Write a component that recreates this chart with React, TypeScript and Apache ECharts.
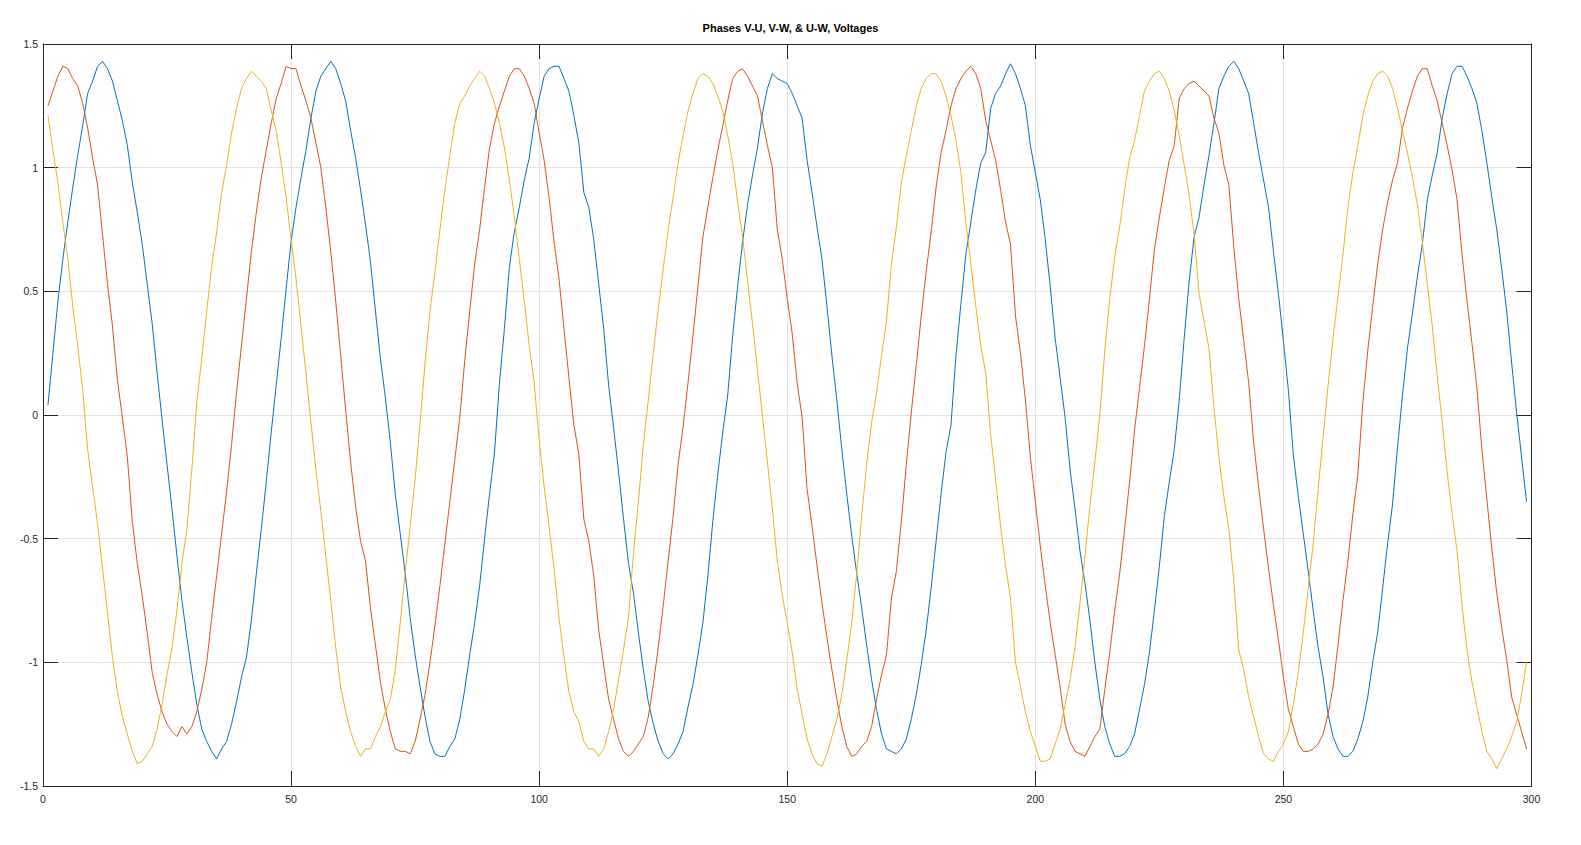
import React, { useEffect, useRef } from "react";
import * as echarts from "echarts";

const titleText = "Phases V-U, V-W, & U-W, Voltages";
const xTicks = [0, 50, 100, 150, 200, 250, 300];
const yTicks = [-1.5, -1, -0.5, 0, 0.5, 1, 1.5];

const blueVU = [
  0.04,0.25,0.46,0.63,0.78,0.92,1.05,1.17,1.30,1.35,
  1.41,1.43,1.40,1.35,1.27,1.19,1.09,0.94,0.82,0.69,
  0.53,0.37,0.17,-0.02,-0.20,-0.38,-0.57,-0.75,-0.90,-1.04,
  -1.17,-1.27,-1.32,-1.36,-1.39,-1.35,-1.32,-1.25,-1.16,-1.06,
  -0.98,-0.83,-0.64,-0.46,-0.27,-0.07,0.12,0.31,0.51,0.70,
  0.84,0.96,1.07,1.20,1.31,1.37,1.40,1.43,1.40,1.34,
  1.27,1.15,1.04,0.91,0.77,0.62,0.42,0.23,0.07,-0.11,
  -0.32,-0.48,-0.64,-0.82,-0.97,-1.10,-1.22,-1.32,-1.37,-1.38,
  -1.38,-1.34,-1.31,-1.23,-1.11,-0.97,-0.84,-0.69,-0.50,-0.32,
  -0.15,0.13,0.35,0.60,0.74,0.84,0.95,1.04,1.18,1.28,
  1.37,1.40,1.41,1.41,1.36,1.31,1.21,1.10,0.90,0.84,
  0.71,0.53,0.35,0.12,-0.05,-0.23,-0.42,-0.60,-0.72,-0.88,
  -1.03,-1.16,-1.25,-1.32,-1.37,-1.39,-1.37,-1.33,-1.28,-1.18,
  -1.09,-0.97,-0.84,-0.65,-0.43,-0.24,-0.07,0.08,0.32,0.52,
  0.70,0.85,0.97,1.08,1.22,1.32,1.38,1.36,1.35,1.34,
  1.30,1.25,1.20,1.03,0.90,0.76,0.63,0.44,0.24,0.06,
  -0.14,-0.32,-0.49,-0.64,-0.78,-0.93,-1.07,-1.19,-1.29,-1.35,
  -1.36,-1.37,-1.35,-1.31,-1.23,-1.13,-1.01,-0.87,-0.70,-0.51,
  -0.32,-0.15,-0.04,0.24,0.45,0.65,0.78,0.91,1.02,1.06,
  1.24,1.30,1.33,1.38,1.42,1.38,1.32,1.25,1.09,0.98,
  0.87,0.71,0.52,0.31,0.15,-0.01,-0.22,-0.38,-0.55,-0.68,
  -0.83,-1.00,-1.15,-1.26,-1.33,-1.38,-1.38,-1.37,-1.34,-1.29,
  -1.19,-1.09,-0.96,-0.79,-0.61,-0.41,-0.27,-0.14,0.06,0.31,
  0.54,0.72,0.80,0.93,1.05,1.18,1.32,1.37,1.41,1.43,
  1.40,1.35,1.30,1.18,1.06,0.95,0.84,0.66,0.49,0.30,
  0.10,-0.16,-0.33,-0.48,-0.63,-0.79,-0.94,-1.06,-1.21,-1.30,
  -1.35,-1.38,-1.38,-1.36,-1.31,-1.24,-1.14,-1.00,-0.88,-0.70,
  -0.52,-0.36,-0.13,0.08,0.27,0.41,0.56,0.69,0.87,0.97,
  1.06,1.20,1.30,1.38,1.41,1.41,1.37,1.32,1.26,1.15,
  1.02,0.88,0.75,0.59,0.42,0.21,0.01,-0.17,-0.35,
];

const redVW = [
  1.25,1.31,1.37,1.41,1.40,1.36,1.33,1.26,1.16,1.04,
  0.93,0.73,0.53,0.36,0.14,-0.01,-0.17,-0.43,-0.60,-0.73,
  -0.88,-1.04,-1.13,-1.20,-1.25,-1.28,-1.30,-1.26,-1.29,-1.26,
  -1.20,-1.11,-1.00,-0.82,-0.65,-0.48,-0.31,-0.12,0.09,0.28,
  0.47,0.66,0.82,0.96,1.07,1.18,1.28,1.34,1.41,1.40,
  1.40,1.33,1.27,1.20,1.10,1.00,0.84,0.66,0.46,0.24,
  0.02,-0.19,-0.37,-0.51,-0.59,-0.78,-0.93,-1.08,-1.19,-1.28,
  -1.35,-1.36,-1.36,-1.37,-1.32,-1.23,-1.13,-1.00,-0.85,-0.69,
  -0.52,-0.35,-0.18,-0.01,0.22,0.42,0.61,0.75,0.92,1.08,
  1.18,1.25,1.31,1.37,1.40,1.40,1.37,1.32,1.26,1.14,
  1.03,0.88,0.70,0.55,0.35,0.15,-0.04,-0.16,-0.42,-0.51,
  -0.65,-0.87,-1.01,-1.15,-1.23,-1.31,-1.36,-1.38,-1.36,-1.33,
  -1.30,-1.22,-1.09,-0.94,-0.77,-0.59,-0.41,-0.20,-0.05,0.13,
  0.32,0.52,0.72,0.84,0.96,1.07,1.17,1.27,1.36,1.39,
  1.40,1.37,1.33,1.29,1.19,1.09,1.00,0.75,0.63,0.47,
  0.33,0.13,-0.01,-0.30,-0.45,-0.61,-0.76,-0.90,-1.03,-1.15,
  -1.26,-1.34,-1.38,-1.37,-1.34,-1.32,-1.26,-1.15,-1.05,-0.97,
  -0.74,-0.63,-0.43,-0.20,0.01,0.20,0.40,0.58,0.74,0.92,
  1.06,1.15,1.25,1.32,1.36,1.39,1.41,1.38,1.32,1.19,
  1.11,1.03,0.91,0.78,0.69,0.40,0.25,0.06,-0.17,-0.35,
  -0.53,-0.69,-0.84,-0.97,-1.10,-1.25,-1.32,-1.36,-1.37,-1.38,
  -1.34,-1.30,-1.27,-1.11,-0.96,-0.79,-0.64,-0.46,-0.27,-0.06,
  0.11,0.28,0.47,0.67,0.80,0.92,1.03,1.09,1.28,1.32,
  1.34,1.35,1.33,1.31,1.29,1.20,1.14,1.01,0.93,0.68,
  0.47,0.30,0.13,-0.11,-0.29,-0.46,-0.62,-0.77,-0.91,-1.06,
  -1.19,-1.26,-1.33,-1.36,-1.36,-1.35,-1.33,-1.29,-1.21,-1.10,
  -0.93,-0.75,-0.59,-0.40,-0.24,0.05,0.26,0.44,0.61,0.75,
  0.86,0.95,1.02,1.16,1.24,1.31,1.37,1.40,1.40,1.33,
  1.27,1.18,1.09,0.99,0.87,0.65,0.46,0.29,0.11,-0.14,
  -0.34,-0.54,-0.72,-0.86,-0.99,-1.14,-1.21,-1.28,-1.35,
];

const yellowUW = [
  1.21,1.07,0.94,0.78,0.63,0.44,0.28,0.10,-0.14,-0.29,
  -0.44,-0.62,-0.80,-0.98,-1.12,-1.22,-1.29,-1.36,-1.41,-1.40,
  -1.37,-1.34,-1.27,-1.17,-1.05,-0.94,-0.79,-0.60,-0.46,-0.22,
  0.05,0.23,0.42,0.60,0.74,0.90,1.01,1.14,1.24,1.32,
  1.36,1.39,1.37,1.35,1.32,1.23,1.15,1.02,0.88,0.71,
  0.55,0.36,0.17,-0.03,-0.22,-0.39,-0.57,-0.75,-0.94,-1.10,
  -1.20,-1.28,-1.34,-1.38,-1.35,-1.35,-1.30,-1.26,-1.20,-1.15,
  -1.03,-0.84,-0.64,-0.45,-0.26,-0.03,0.21,0.42,0.58,0.75,
  0.91,1.05,1.18,1.26,1.29,1.33,1.36,1.39,1.37,1.32,
  1.26,1.18,1.08,0.95,0.80,0.63,0.46,0.28,0.13,-0.10,
  -0.29,-0.45,-0.62,-0.82,-0.98,-1.12,-1.20,-1.24,-1.32,-1.35,
  -1.35,-1.38,-1.35,-1.28,-1.19,-1.07,-0.95,-0.82,-0.56,-0.35,
  -0.12,0.06,0.25,0.43,0.59,0.75,0.88,1.02,1.13,1.23,
  1.30,1.36,1.38,1.37,1.34,1.29,1.23,1.13,1.02,0.86,
  0.72,0.54,0.37,0.18,0.00,-0.19,-0.38,-0.59,-0.73,-0.84,
  -0.96,-1.11,-1.21,-1.31,-1.37,-1.41,-1.42,-1.37,-1.30,-1.23,
  -1.13,-0.99,-0.84,-0.64,-0.41,-0.20,-0.03,0.09,0.24,0.38,
  0.61,0.76,0.94,1.05,1.15,1.25,1.32,1.36,1.38,1.38,
  1.35,1.29,1.21,1.11,0.98,0.78,0.61,0.44,0.28,0.17,
  -0.08,-0.26,-0.45,-0.61,-0.74,-1.00,-1.10,-1.20,-1.28,-1.34,
  -1.40,-1.40,-1.39,-1.33,-1.27,-1.17,-1.07,-0.94,-0.76,-0.57,
  -0.37,-0.19,0.00,0.26,0.47,0.64,0.76,0.91,1.04,1.11,
  1.21,1.31,1.35,1.38,1.39,1.36,1.31,1.23,1.13,1.01,
  0.89,0.73,0.49,0.38,0.27,0.03,-0.17,-0.33,-0.46,-0.67,
  -0.95,-1.03,-1.14,-1.22,-1.30,-1.37,-1.39,-1.40,-1.36,-1.33,
  -1.28,-1.17,-1.04,-0.88,-0.70,-0.52,-0.30,-0.09,0.12,0.31,
  0.48,0.65,0.84,0.98,1.09,1.21,1.29,1.35,1.38,1.39,
  1.37,1.32,1.24,1.15,1.06,0.96,0.85,0.70,0.53,0.36,
  0.16,-0.03,-0.23,-0.40,-0.55,-0.77,-0.95,-1.08,-1.18,-1.28,
  -1.36,-1.39,-1.43,-1.39,-1.35,-1.30,-1.24,-1.13,-1.00,
];

const seriesColors = ["#0072BD", "#D95319", "#EDB120"];
const FONT = '"Liberation Sans", Arial, Helvetica, sans-serif';

function toPoints(values: number[]) {
  return values.map((v, i) => [i + 1, v]);
}

export default function App() {
  const ref = useRef<HTMLDivElement>(null);

  useEffect(() => {
    if (!ref.current) return;
    const chart = echarts.init(ref.current, undefined, { renderer: "svg" });
    const axisColor = "#262626";
    const gridColor = "#e3e3e3";
    const labelStyle = { color: "#262626", fontSize: 10.5, fontFamily: FONT };
    const tickStyle = { inside: true, length: 15, lineStyle: { color: axisColor, width: 1 } };
    const lineStyle = { show: true, onZero: false, lineStyle: { color: axisColor, width: 1 } };

    chart.setOption({
      animation: false,
      backgroundColor: "#ffffff",
      title: {
        text: titleText,
        left: "center",
        top: 22,
        padding: 0,
        textStyle: { fontSize: 11, fontWeight: "bold", color: "#000000", fontFamily: FONT },
      },
      grid: { left: 43, right: 49.5, top: 44, bottom: 59, containLabel: false },
      xAxis: [
        {
          type: "value",
          min: xTicks[0],
          max: xTicks[xTicks.length - 1],
          interval: 50,
          position: "bottom",
          axisLine: lineStyle,
          axisTick: tickStyle,
          axisLabel: { ...labelStyle, margin: 7 },
          splitLine: { show: true, lineStyle: { color: gridColor, width: 1 } },
        },
        {
          type: "value",
          min: xTicks[0],
          max: xTicks[xTicks.length - 1],
          interval: 50,
          position: "top",
          axisLine: lineStyle,
          axisTick: tickStyle,
          axisLabel: { show: false },
          splitLine: { show: false },
        },
      ],
      yAxis: [
        {
          type: "value",
          min: yTicks[0],
          max: yTicks[yTicks.length - 1],
          interval: 0.5,
          position: "left",
          axisLine: lineStyle,
          axisTick: tickStyle,
          axisLabel: { ...labelStyle, margin: 5 },
          splitLine: { show: true, lineStyle: { color: gridColor, width: 1 } },
        },
        {
          type: "value",
          min: yTicks[0],
          max: yTicks[yTicks.length - 1],
          interval: 0.5,
          position: "right",
          axisLine: lineStyle,
          axisTick: tickStyle,
          axisLabel: { show: false },
          splitLine: { show: false },
        },
      ],
      series: [
        { name: "V-U", data: toPoints(blueVU), color: seriesColors[0] },
        { name: "V-W", data: toPoints(redVW), color: seriesColors[1] },
        { name: "U-W", data: toPoints(yellowUW), color: seriesColors[2] },
      ].map((s) => ({
        type: "line",
        name: s.name,
        data: s.data,
        xAxisIndex: 0,
        yAxisIndex: 0,
        showSymbol: false,
        symbol: "none",
        lineStyle: { color: s.color, width: 1 },
        itemStyle: { color: s.color },
      })),
    });

    return () => chart.dispose();
  }, []);

  return (
    <div
      ref={ref}
      style={{ position: "absolute", left: 0, top: 0, width: 1581, height: 845, background: "#fff" }}
    />
  );
}
